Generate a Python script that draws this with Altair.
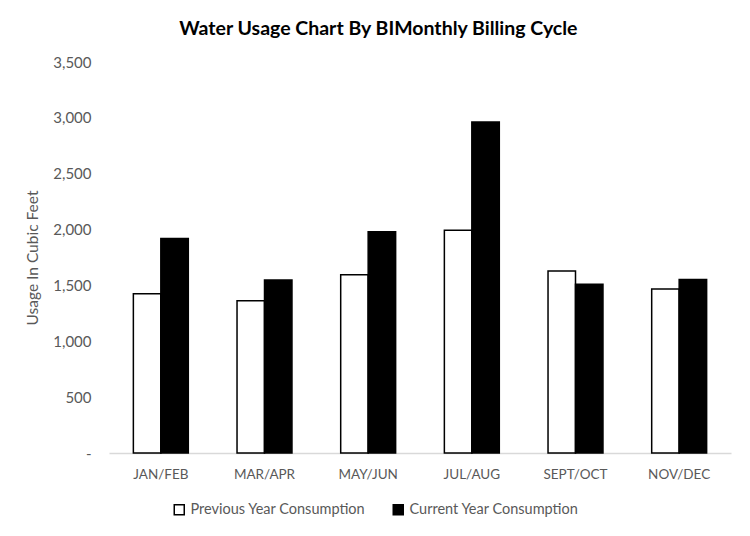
import altair as alt
import pandas as pd

# bimonthly billing cycles and usage in cubic feet
categories = ["JAN/FEB", "MAR/APR", "MAY/JUN", "JUL/AUG", "SEPT/OCT", "NOV/DEC"]
series = ["Previous Year Consumption", "Current Year Consumption"]
previous = [1426, 1363, 1596, 1993, 1629, 1468]
current = [1921, 1548, 1981, 2962, 1510, 1554]
y_ticks = [0, 500, 1000, 1500, 2000, 2500, 3000, 3500]

df = pd.DataFrame(
    {
        "cycle": categories * 2,
        "series": [series[0]] * len(categories) + [series[1]] * len(categories),
        "usage": previous + current,
    }
)

font = "Lato"
gray = "#595959"

chart = (
    alt.Chart(
        df,
        title=alt.Title(
            "Water Usage Chart By BIMonthly Billing Cycle",
            frame="bounds",
            anchor="middle",
            font=font,
            fontSize=19.5,
            fontWeight="bold",
            color="black",
            offset=16,
        ),
    )
    .mark_bar(stroke="black", strokeWidth=1.5)
    .encode(
        x=alt.X(
            "cycle:N",
            sort=categories,
            title=None,
            scale=alt.Scale(paddingInner=0.47, paddingOuter=0.235),
            axis=alt.Axis(
                labelAngle=0,
                ticks=False,
                domainColor="#d9d9d9",
                domainWidth=1.5,
                labelColor=gray,
                labelFont=font,
                labelFontSize=13.5,
                labelPadding=14,
            ),
        ),
        xOffset=alt.XOffset("series:N", sort=series),
        y=alt.Y(
            "usage:Q",
            scale=alt.Scale(domain=[0, 3500]),
            axis=alt.Axis(
                values=y_ticks,
                grid=False,
                domain=False,
                ticks=False,
                labelExpr="datum.value == 0 ? '-' : format(datum.value, ',')",
                labelColor=gray,
                labelFont=font,
                labelFontSize=15,
                labelPadding=18,
                title="Usage In Cubic Feet",
                titleColor=gray,
                titleFont=font,
                titleFontSize=15.5,
                titleFontWeight="normal",
                titlePadding=12,
            ),
        ),
        color=alt.Color(
            "series:N",
            sort=series,
            scale=alt.Scale(domain=series, range=["white", "black"]),
            legend=alt.Legend(
                orient="none",
                legendX=63,
                legendY=440,
                direction="horizontal",
                title=None,
                symbolType="square",
                symbolSize=100,
                symbolStrokeColor="black",
                symbolStrokeWidth=1.5,
                labelColor=gray,
                labelFont=font,
                labelFontSize=14.5,
                labelLimit=0,
                columnPadding=24,
            ),
        ),
    )
    .properties(width=622, height=391, padding={"top": 10, "left": 17, "right": 5, "bottom": 5})
    .configure_view(stroke=None)
)

chart.save("out.html", embed_options={"renderer": "svg", "actions": False})
